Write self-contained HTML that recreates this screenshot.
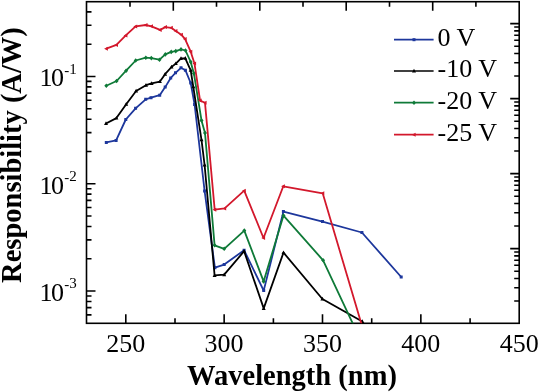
<!DOCTYPE html>
<html><head><meta charset="utf-8"><style>
html,body{margin:0;padding:0;background:#fff;width:539px;height:392px;overflow:hidden}
svg{display:block;position:absolute;left:0;top:0;will-change:transform}
text{font-family:"Liberation Serif",serif;fill:#000}
.tk{font-size:26px}
.sup{font-size:15px}
.lg{font-size:26px}
.ttl{font-size:28.5px;font-weight:bold}
</style></head><body>
<svg width="539" height="392" viewBox="0 0 539 392"><rect x="86.5" y="1.7" width="432.70" height="321.60" fill="none" stroke="#000" stroke-width="1.6"/>
<path d="M125.80 323.3v-9M224.15 323.3v-9M322.50 323.3v-9M420.85 323.3v-9M175.00 323.3v-5M273.40 323.3v-5M371.70 323.3v-5M470.10 323.3v-5M173.30 1.7v9M259.80 1.7v9M346.20 1.7v9M432.70 1.7v9M130.00 1.7v5M216.50 1.7v5M303.00 1.7v5M389.50 1.7v5M475.90 1.7v5M86.5 76.50h9M86.5 183.77h9M86.5 291.04h9M86.5 314.84h5M86.5 307.66h5M86.5 301.44h5M86.5 295.95h5M86.5 258.75h5M86.5 239.86h5M86.5 226.46h5M86.5 216.06h5M86.5 207.57h5M86.5 200.39h5M86.5 194.17h5M86.5 188.68h5M86.5 151.48h5M86.5 132.59h5M86.5 119.19h5M86.5 108.79h5M86.5 100.30h5M86.5 93.12h5M86.5 86.90h5M86.5 81.41h5M86.5 44.21h5M86.5 25.32h5M86.5 11.92h5M519.2 23.60h-9M519.2 98.60h-9M519.2 173.60h-9M519.2 248.60h-9M519.2 76.02h-5M519.2 62.82h-5M519.2 53.45h-5M519.2 46.18h-5M519.2 40.24h-5M519.2 35.22h-5M519.2 30.87h-5M519.2 27.03h-5M519.2 151.02h-5M519.2 137.82h-5M519.2 128.45h-5M519.2 121.18h-5M519.2 115.24h-5M519.2 110.22h-5M519.2 105.87h-5M519.2 102.03h-5M519.2 226.02h-5M519.2 212.82h-5M519.2 203.45h-5M519.2 196.18h-5M519.2 190.24h-5M519.2 185.22h-5M519.2 180.87h-5M519.2 177.03h-5M519.2 301.02h-5M519.2 287.82h-5M519.2 278.45h-5M519.2 271.18h-5M519.2 265.24h-5M519.2 260.22h-5M519.2 255.87h-5M519.2 252.03h-5" stroke="#000" stroke-width="1.6" fill="none"/>
<clipPath id="c"><rect x="86.5" y="1.7" width="432.70" height="321.60"/></clipPath>
<g clip-path="url(#c)" fill="none" stroke-linejoin="round">
<path d="M106.3 142.4 L116.1 140.4 L125.8 119.5 L135.6 108.3 L145.7 99.3 L151.0 97.7 L159.7 95.2 L165.2 87.1 L170.7 78.0 L175.5 72.8 L181.0 67.8 L185.4 70.2 L190.7 83.0 L194.6 104.5 L204.6 191.0 L214.9 267.7 L224.2 264.6 L244.1 250.2 L263.7 290.6 L283.4 211.6 L322.5 221.6 L361.9 232.5 L401.2 277.0" stroke="#1d379c" stroke-width="1.8"/>
<path d="M104.8 140.9h3v3h-3ZM114.6 138.9h3v3h-3ZM124.3 118.0h3v3h-3ZM134.1 106.8h3v3h-3ZM144.2 97.8h3v3h-3ZM149.5 96.2h3v3h-3ZM158.2 93.7h3v3h-3ZM163.7 85.6h3v3h-3ZM169.2 76.5h3v3h-3ZM174.0 71.3h3v3h-3ZM179.5 66.3h3v3h-3ZM183.9 68.7h3v3h-3ZM189.2 81.5h3v3h-3ZM193.1 103.0h3v3h-3ZM203.1 189.5h3v3h-3ZM213.4 266.2h3v3h-3ZM222.7 263.1h3v3h-3ZM242.6 248.7h3v3h-3ZM262.2 289.1h3v3h-3ZM281.9 210.1h3v3h-3ZM321.0 220.1h3v3h-3ZM360.4 231.0h3v3h-3ZM399.7 275.5h3v3h-3Z" fill="#1d379c" stroke="none"/>
<path d="M106.0 123.5 L116.4 118.1 L126.2 104.3 L136.1 91.0 L146.0 85.2 L151.6 83.4 L159.9 81.6 L165.1 74.2 L171.5 67.0 L175.8 63.6 L181.0 58.4 L185.3 58.3 L190.7 70.3 L193.3 86.8 L201.5 139.8 L204.6 165.0 L214.6 275.4 L224.2 274.7 L244.1 251.2 L263.7 308.4 L283.5 252.6 L322.4 299.0 L362.3 321.5" stroke="#000000" stroke-width="1.8"/>
<path d="M106.0 121.3L108.0 125.0L104.0 125.0ZM116.4 115.9L118.4 119.6L114.4 119.6ZM126.2 102.1L128.2 105.8L124.2 105.8ZM136.1 88.8L138.1 92.5L134.1 92.5ZM146.0 83.0L148.0 86.7L144.0 86.7ZM151.6 81.2L153.6 84.9L149.6 84.9ZM159.9 79.4L161.9 83.1L157.9 83.1ZM165.1 72.0L167.1 75.7L163.1 75.7ZM171.5 64.8L173.5 68.5L169.5 68.5ZM175.8 61.4L177.8 65.1L173.8 65.1ZM181.0 56.2L183.0 59.9L179.0 59.9ZM185.3 56.1L187.3 59.8L183.3 59.8ZM190.7 68.1L192.7 71.8L188.7 71.8ZM193.3 84.6L195.3 88.3L191.3 88.3ZM201.5 137.6L203.5 141.3L199.5 141.3ZM204.6 162.8L206.6 166.5L202.6 166.5ZM214.6 273.2L216.6 276.9L212.6 276.9ZM224.2 272.5L226.2 276.2L222.2 276.2ZM244.1 249.0L246.1 252.7L242.1 252.7ZM263.7 306.2L265.7 309.9L261.7 309.9ZM283.5 250.4L285.5 254.1L281.5 254.1ZM322.4 296.8L324.4 300.5L320.4 300.5ZM362.3 319.3L364.3 323.0L360.3 323.0Z" fill="#000000" stroke="none"/>
<path d="M106.3 85.8 L116.6 81.0 L126.1 70.7 L135.7 60.5 L145.8 57.7 L151.3 58.1 L159.5 59.7 L165.3 54.4 L171.2 51.9 L175.8 51.1 L181.0 49.4 L185.5 50.5 L190.7 61.9 L193.9 73.4 L201.5 120.4 L205.0 132.9 L214.6 245.3 L224.2 248.8 L244.3 230.6 L263.6 281.4 L283.5 215.6 L323.1 260.3 L361.9 343.0" stroke="#0f7a38" stroke-width="1.8"/>
<path d="M106.3 83.5L108.3 85.8L106.3 88.1L104.3 85.8ZM116.6 78.7L118.6 81.0L116.6 83.3L114.6 81.0ZM126.1 68.4L128.1 70.7L126.1 73.0L124.1 70.7ZM135.7 58.2L137.7 60.5L135.7 62.8L133.7 60.5ZM145.8 55.4L147.8 57.7L145.8 60.0L143.8 57.7ZM151.3 55.8L153.3 58.1L151.3 60.4L149.3 58.1ZM159.5 57.4L161.5 59.7L159.5 62.0L157.5 59.7ZM165.3 52.1L167.3 54.4L165.3 56.7L163.3 54.4ZM171.2 49.6L173.2 51.9L171.2 54.2L169.2 51.9ZM175.8 48.8L177.8 51.1L175.8 53.4L173.8 51.1ZM181.0 47.1L183.0 49.4L181.0 51.7L179.0 49.4ZM185.5 48.2L187.5 50.5L185.5 52.8L183.5 50.5ZM190.7 59.6L192.7 61.9L190.7 64.2L188.7 61.9ZM193.9 71.1L195.9 73.4L193.9 75.7L191.9 73.4ZM201.5 118.1L203.5 120.4L201.5 122.7L199.5 120.4ZM205.0 130.6L207.0 132.9L205.0 135.2L203.0 132.9ZM214.6 243.0L216.6 245.3L214.6 247.6L212.6 245.3ZM224.2 246.5L226.2 248.8L224.2 251.1L222.2 248.8ZM244.3 228.3L246.3 230.6L244.3 232.9L242.3 230.6ZM263.6 279.1L265.6 281.4L263.6 283.7L261.6 281.4ZM283.5 213.3L285.5 215.6L283.5 217.9L281.5 215.6ZM323.1 258.0L325.1 260.3L323.1 262.6L321.1 260.3Z" fill="#0f7a38" stroke="none"/>
<path d="M106.3 48.7 L116.4 44.9 L125.8 35.4 L135.6 26.4 L145.9 25.0 L151.4 26.3 L160.1 29.9 L165.4 27.1 L171.2 27.8 L175.8 31.1 L181.3 34.7 L185.1 39.1 L190.7 51.7 L194.5 63.6 L200.1 100.6 L205.0 102.8 L214.7 209.7 L224.6 208.4 L244.2 190.7 L263.5 238.0 L283.3 186.3 L322.7 193.3 L361.9 325.5" stroke="#d3182c" stroke-width="1.8"/>
<path d="M104.1 48.7L107.9 46.7L107.9 50.7ZM114.2 44.9L118.0 42.9L118.0 46.9ZM123.6 35.4L127.4 33.4L127.4 37.4ZM133.4 26.4L137.2 24.4L137.2 28.4ZM143.7 25.0L147.5 23.0L147.5 27.0ZM149.2 26.3L153.0 24.3L153.0 28.3ZM157.9 29.9L161.7 27.9L161.7 31.9ZM163.2 27.1L167.0 25.1L167.0 29.1ZM169.0 27.8L172.8 25.8L172.8 29.8ZM173.6 31.1L177.4 29.1L177.4 33.1ZM179.1 34.7L182.9 32.7L182.9 36.7ZM182.9 39.1L186.7 37.1L186.7 41.1ZM188.5 51.7L192.3 49.7L192.3 53.7ZM192.3 63.6L196.1 61.6L196.1 65.6ZM197.9 100.6L201.7 98.6L201.7 102.6ZM202.8 102.8L206.6 100.8L206.6 104.8ZM212.5 209.7L216.3 207.7L216.3 211.7ZM222.4 208.4L226.2 206.4L226.2 210.4ZM242.0 190.7L245.8 188.7L245.8 192.7ZM261.3 238.0L265.1 236.0L265.1 240.0ZM281.1 186.3L284.9 184.3L284.9 188.3ZM320.5 193.3L324.3 191.3L324.3 195.3Z" fill="#d3182c" stroke="none"/>
</g>
<path d="M394 39.7H433.6" stroke="#1d379c" stroke-width="1.7"/>
<path d="M412.5 38.2h3v3h-3Z" fill="#1d379c"/>
<text x="437.6" y="45.8" class="lg">0 V</text>
<path d="M394 71.0H433.6" stroke="#000000" stroke-width="1.7"/>
<path d="M414.0 68.8L416.0 72.5L412.0 72.5Z" fill="#000000"/>
<text x="437.6" y="77.1" class="lg">-10 V</text>
<path d="M394 102.7H433.6" stroke="#0f7a38" stroke-width="1.7"/>
<path d="M414.0 100.4L416.0 102.7L414.0 105.0L412.0 102.7Z" fill="#0f7a38"/>
<text x="437.6" y="108.8" class="lg">-20 V</text>
<path d="M394 134.7H433.6" stroke="#d3182c" stroke-width="1.7"/>
<path d="M411.8 134.7L415.6 132.7L415.6 136.7Z" fill="#d3182c"/>
<text x="437.6" y="140.8" class="lg">-25 V</text>
<text y="86.3" class="tk"><tspan x="39.5">1</tspan><tspan x="51">0</tspan></text><text y="73.8" class="sup"><tspan x="64.3" dy="1">-</tspan><tspan x="69.2" dy="-1">1</tspan></text>
<text y="193.6" class="tk"><tspan x="39.5">1</tspan><tspan x="51">0</tspan></text><text y="181.1" class="sup"><tspan x="64.3" dy="1">-</tspan><tspan x="69.2" dy="-1">2</tspan></text>
<text y="300.8" class="tk"><tspan x="39.5">1</tspan><tspan x="51">0</tspan></text><text y="288.3" class="sup"><tspan x="64.3" dy="1">-</tspan><tspan x="69.2" dy="-1">3</tspan></text>
<text x="125.8" y="352.2" class="tk" text-anchor="middle">250</text>
<text x="224.1" y="352.2" class="tk" text-anchor="middle">300</text>
<text x="322.5" y="352.2" class="tk" text-anchor="middle">350</text>
<text x="420.8" y="352.2" class="tk" text-anchor="middle">400</text>
<text x="519.2" y="352.2" class="tk" text-anchor="middle">450</text>
<text x="292" y="385" class="ttl" text-anchor="middle">Wavelength (nm)</text>
<text transform="translate(20.5 155) rotate(-90)" class="ttl" text-anchor="middle">Responsibility (A/W)</text></svg>
</body></html>
